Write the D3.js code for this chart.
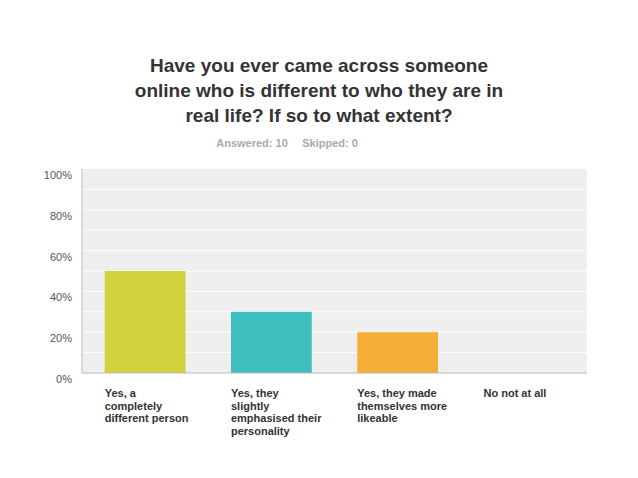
<!DOCTYPE html>
<html><head><meta charset="utf-8">
<script src="https://cdn.jsdelivr.net/npm/d3@7"></script>
<style>body{margin:0;background:#fff;font-family:"Liberation Sans",Arial,sans-serif}</style>
</head><body><div id="chart"></div>
<script>
var categories = ["Yes, a|completely|different person", "Yes, they|slightly|emphasised their|personality", "Yes, they made|themselves more|likeable", "No not at all"];
var values = [50, 30, 20, 0];
var colors = ["#d0d23e", "#3dbfbf", "#f5ae38", "#999"];
var ticks = [0, 20, 40, 60, 80, 100];

var w = 638, h = 478;
var svg = d3.select("#chart").append("svg").attr("width", w).attr("height", h);
var plotLeft = 82, plotRight = 587, plotTop = 169, plotBottom = 373;

var title = ["Have you ever came across someone", "online who is different to who they are in", "real life? If so to what extent?"];
svg.selectAll("text.title").data(title).enter().append("text")
  .attr("x", 319).attr("y", function(d, i) { return 72 + i * 25; })
  .attr("text-anchor", "middle").attr("font-size", 19).attr("font-weight", "bold")
  .attr("fill", "#333").text(function(d) { return d; });

svg.append("text").attr("x", 252).attr("y", 147).attr("text-anchor", "middle")
  .attr("font-size", 11).attr("font-weight", "bold").attr("fill", "#aaa").text("Answered: 10");
svg.append("text").attr("x", 330).attr("y", 147).attr("text-anchor", "middle")
  .attr("font-size", 11).attr("font-weight", "bold").attr("fill", "#aaa").text("Skipped: 0");

var x = d3.scaleBand().domain(categories).range([plotLeft, plotRight]).paddingInner(0.36).paddingOuter(0.18);
var y = d3.scaleLinear().domain([0, 100]).range([plotBottom, plotTop]);

svg.append("rect").attr("x", plotLeft).attr("y", plotTop).attr("width", plotRight - plotLeft).attr("height", plotBottom - plotTop).attr("fill", "#efefef");
svg.selectAll("line.grid").data(d3.range(10, 100, 10)).enter().append("line")
  .attr("x1", plotLeft).attr("x2", plotRight).attr("y1", function(d) { return y(d); }).attr("y2", function(d) { return y(d); })
  .attr("stroke", "#fff").attr("stroke-width", 1);

svg.selectAll("rect.bar").data(values).enter().append("rect")
  .attr("x", function(d, i) { return x(categories[i]); })
  .attr("y", function(d) { return y(d); })
  .attr("width", x.bandwidth())
  .attr("height", function(d) { return plotBottom - y(d); })
  .attr("fill", function(d, i) { return colors[i]; });

svg.append("line").attr("x1", plotLeft).attr("x2", plotLeft).attr("y1", plotTop).attr("y2", plotBottom).attr("stroke", "#bbb");
svg.append("line").attr("x1", plotLeft).attr("x2", plotRight).attr("y1", plotBottom).attr("y2", plotBottom).attr("stroke", "#bbb");

svg.selectAll("text.tick").data(ticks).enter().append("text")
  .attr("x", 72).attr("y", function(d) { return y(d) + 10; }).attr("text-anchor", "end")
  .attr("font-size", 11).attr("fill", "#555").text(function(d) { return d + "%"; });

var lab = svg.selectAll("text.cat").data(categories).enter().append("text")
  .attr("x", function(d) { return x(d); }).attr("y", 397)
  .attr("font-size", 11).attr("font-weight", "bold").attr("fill", "#333");
lab.selectAll("tspan").data(function(d) { return d.split("|"); }).enter().append("tspan")
  .attr("x", function() { return x(d3.select(this.parentNode).datum()); })
  .attr("dy", function(d, i) { return i ? 12.5 : 0; }).text(function(d) { return d; });
</script></body></html>
